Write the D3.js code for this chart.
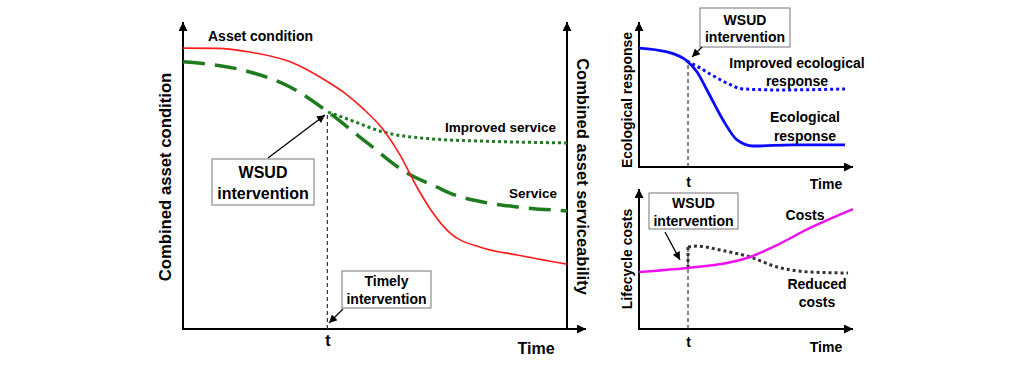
<!DOCTYPE html>
<html><head><meta charset="utf-8">
<script src="https://cdn.jsdelivr.net/npm/d3@7"></script>
<style>
html,body{margin:0;padding:0;background:#fff;}
svg{display:block;font-family:"Liberation Sans",Arial,sans-serif;font-weight:bold;}
</style></head>
<body>
<svg id="chart" width="1024" height="368"></svg>
<script>
// ---------- DATA (time 0..100, value 0..100) ----------
// Left panel
const assetX   = [0, 8.9, 17.4, 27.9, 36.5, 42.2, 46.9, 51.8, 56.5, 60.9, 65.1, 69.5, 78.1, 87.0, 100];
const assetY   = [91.8, 91.7, 90.5, 87.3, 81.7, 77.0, 72.0, 65.7, 56.9, 46.4, 37.9, 31.4, 26.5, 24.2, 21.2];
const serviceX = [0, 17.4, 27.9, 37.8, 48.0, 58.3, 66.1, 69.5, 78.1, 87.0, 100];
const serviceY = [87.3, 84.0, 79.1, 70.9, 60.8, 51.0, 46.4, 44.4, 41.5, 39.9, 38.6];
const improvedX = [37.8, 43.5, 52.1, 65.1, 78.1, 100];
const improvedY = [70.9, 68.3, 64.4, 62.1, 61.4, 60.8];
const tLeft = 37.6;
// Top-right panel
const ecoX = [0, 13.6, 23.3, 28.2, 33.0, 40.8, 47.6, 55.3, 74.8, 100];
const ecoY = [82.6, 79.9, 73.6, 66.0, 53.5, 32.6, 18.8, 14.6, 15.3, 15.3];
const ecoImpX = [23.3, 29.6, 34.5, 42.7, 50.5, 68.4, 100];
const ecoImpY = [73.6, 68.8, 64.6, 58.3, 54.2, 53.5, 54.2];
const tEco = 23.8;
// Bottom-right panel
const costX = [0, 22.4, 41.1, 51.9, 64.5, 79.9, 100];
const costY = [41.0, 43.9, 47.5, 51.8, 60.4, 72.7, 86.3];
const redCostX = [22.9, 27.1, 37.9, 51.9, 64.5, 79.9, 97.7];
const redCostY = [59.0, 59.7, 56.8, 51.8, 44.6, 41.0, 40.3];
const tCost = 22.9;
const tickLabels = ["t"];

// ---------- SETUP ----------
const svg = d3.select("#chart");
const defs = svg.append("defs");
function marker(id, w, h){
  defs.append("marker").attr("id", id).attr("viewBox", "0 0 10 10")
    .attr("refX", 10).attr("refY", 5).attr("markerUnits", "userSpaceOnUse")
    .attr("markerWidth", w).attr("markerHeight", h).attr("orient", "auto")
    .append("path").attr("d", "M0,0L10,5L0,10Z").attr("fill", "#000");
}
marker("axArrow", 12, 9);
marker("anArrow", 9, 8);

const zip = (xs, ys) => xs.map((x, i) => [x, ys[i]]);

function panel(cfg){
  const x = d3.scaleLinear().domain([0, 100]).range(cfg.xr);
  const y = d3.scaleLinear().domain([0, 100]).range(cfg.yr);
  const g = svg.append("g");
  const x0 = cfg.xr[0], y0 = cfg.yr[0];
  g.append("line").attr("x1", x0).attr("y1", y0).attr("x2", x0).attr("y2", cfg.yTop)
    .attr("stroke", "#000").attr("stroke-width", 2).attr("marker-end", "url(#axArrow)");
  g.append("line").attr("x1", x0 - 1).attr("y1", y0).attr("x2", cfg.xEnd).attr("y2", y0)
    .attr("stroke", "#000").attr("stroke-width", 2).attr("marker-end", "url(#axArrow)");
  const ax = g.append("g").attr("transform", `translate(0,${y0})`)
    .call(d3.axisBottom(x).tickValues([cfg.t]).tickFormat(() => tickLabels[0]).tickSize(0).tickPadding(cfg.tPad));
  ax.select(".domain").remove();
  ax.selectAll("text").attr("font-size", cfg.fs).attr("font-family", "Liberation Sans, Arial, sans-serif")
    .attr("font-weight", "bold").attr("fill", "#000");
  g.append("text").attr("x", cfg.timePos[0]).attr("y", cfg.timePos[1]).attr("dy", "0.35em")
    .attr("text-anchor", "middle").attr("font-size", cfg.fs).text("Time");
  g.append("text").attr("transform", `translate(${cfg.ylabPos[0]},${cfg.ylabPos[1]}) rotate(-90)`)
    .attr("dy", "0.35em").attr("text-anchor", "middle").attr("font-size", cfg.yfs || cfg.fs).text(cfg.ylab);
  g.append("line").attr("x1", x(cfg.t)).attr("x2", x(cfg.t)).attr("y1", y0).attr("y2", y(cfg.tTop))
    .attr("stroke", "#333").attr("stroke-width", 1.2).attr("stroke-dasharray", "4,3");
  const line = d3.line().x(d => x(d[0])).y(d => y(d[1])).curve(d3.curveMonotoneX);
  return {x, y, g, line};
}

function addPath(p, data, color, w, dash){
  p.g.append("path").attr("d", p.line(data)).attr("fill", "none").attr("stroke", color)
    .attr("stroke-width", w).attr("stroke-dasharray", dash || null).attr("stroke-linecap", "butt");
}
function label(g, lines, cx, cy, fs, lh, anchor){
  const t = g.append("text").attr("font-size", fs).attr("text-anchor", anchor || "middle");
  lines.forEach((s, i) => t.append("tspan").attr("x", cx).attr("y", cy + i * lh).attr("dy", "0.35em").text(s));
  return t;
}
function box(g, lines, x0, y0, x1, y1, fs, cys){
  g.append("rect").attr("x", x0).attr("y", y0).attr("width", x1 - x0).attr("height", y1 - y0)
    .attr("fill", "#fff").attr("stroke", "#8a8a8a").attr("stroke-width", 1.2);
  lines.forEach((s, i) => g.append("text").attr("x", (x0 + x1) / 2).attr("y", cys[i]).attr("dy", "0.35em")
    .attr("text-anchor", "middle").attr("font-size", fs).text(s));
}
function arrow(g, x1, y1, x2, y2){
  g.append("line").attr("x1", x1).attr("y1", y1).attr("x2", x2).attr("y2", y2)
    .attr("stroke", "#000").attr("stroke-width", 1.3).attr("marker-end", "url(#anArrow)");
}

// ---------- LEFT PANEL ----------
const L = panel({xr: [183, 567], yr: [329, 23], yTop: 22, xEnd: 586, t: tLeft, tTop: improvedY[0],
  tPad: 6, fs: 16, yfs: 16.7, timePos: [536, 348], ylabPos: [165, 177], ylab: "Combined asset condition"});
L.g.append("line").attr("x1", 567).attr("y1", 330).attr("x2", 567).attr("y2", 22)
  .attr("stroke", "#000").attr("stroke-width", 2).attr("marker-end", "url(#axArrow)");
L.g.append("text").attr("transform", "translate(583,176.5) rotate(90)").attr("dy", "0.35em")
  .attr("text-anchor", "middle").attr("font-size", 16.5).text("Combined asset serviceability");
addPath(L, zip(improvedX, improvedY), "#1e7b1e", 3, "3,3");
addPath(L, zip(serviceX, serviceY), "#1e7b1e", 3.5, "22,10");
addPath(L, zip(assetX, assetY), "#ff1a1a", 1.6);
label(L.g, ["Asset condition"], 208, 36, 14, 0, "start");
label(L.g, ["Improved service"], 445, 127, 13.5, 0, "start");
label(L.g, ["Service"], 509, 193, 13.5, 0, "start");
arrow(L.g, 268, 158, 325, 115);
box(L.g, ["WSUD", "intervention"], 212, 159, 314, 205, 16, [172, 193]);
arrow(L.g, 343, 309, 329, 323);
box(L.g, ["Timely", "intervention"], 342, 271, 431, 308, 14, [281, 299]);

// ---------- TOP-RIGHT PANEL ----------
const E = panel({xr: [639, 845], yr: [167, 23], yTop: 22, xEnd: 853, t: tEco, tTop: ecoY[2],
  tPad: 10, fs: 14, timePos: [826, 184], ylabPos: [627, 100], ylab: "Ecological response"});
addPath(E, zip(ecoImpX, ecoImpY), "#0a0aff", 3, "3,3");
addPath(E, zip(ecoX, ecoY), "#0a0aff", 2.8);
label(E.g, ["Improved ecological", "response"], 797, 63, 14, 18);
label(E.g, ["Ecological", "response"], 805, 117, 14, 19);
box(E.g, ["WSUD", "intervention"], 700, 8, 790, 47, 14, [20, 37]);
arrow(E.g, 702, 47, 692, 57);

// ---------- BOTTOM-RIGHT PANEL ----------
const C = panel({xr: [639, 853], yr: [329, 190], yTop: 189, xEnd: 853, t: tCost, tTop: redCostY[0],
  tPad: 8, fs: 14, timePos: [826, 347], ylabPos: [627, 259], ylab: "Lifecycle costs"});
C.g.append("line").attr("x1", C.x(tCost)).attr("x2", C.x(tCost)).attr("y1", C.y(43.9)).attr("y2", C.y(redCostY[0]))
  .attr("stroke", "#333").attr("stroke-width", 3).attr("stroke-dasharray", "3,3");
addPath(C, zip(redCostX, redCostY), "#333", 3, "3,3");
addPath(C, zip(costX, costY), "#ee11ee", 2.5);
label(C.g, ["Costs"], 805, 215, 14, 0);
label(C.g, ["Reduced", "costs"], 817, 284, 14, 18);
box(C.g, ["WSUD", "intervention"], 649, 193, 738, 229, 14, [203, 221]);
arrow(C.g, 665, 232, 680, 260);
</script>
</body></html>
